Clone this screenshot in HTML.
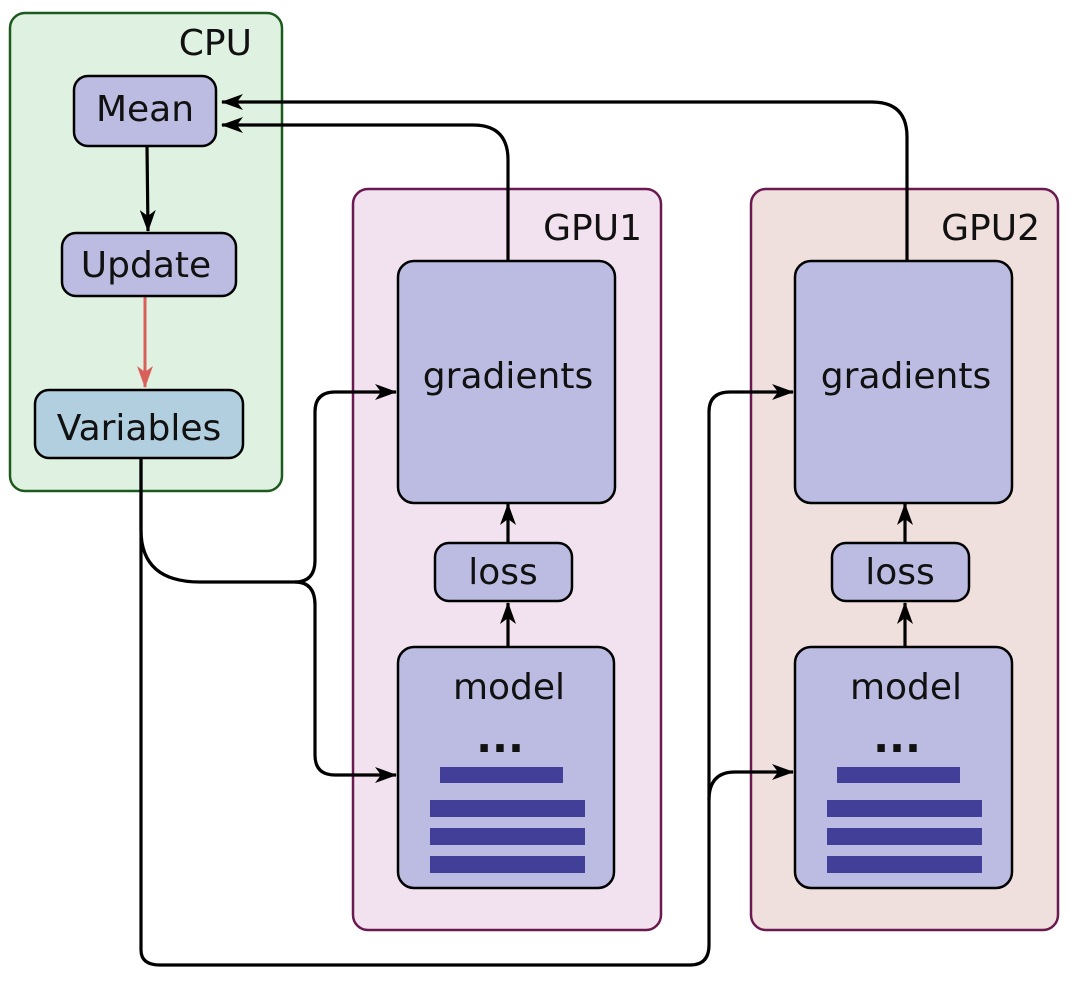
<!DOCTYPE html>
<html><head><style>body{margin:0;background:#fff}svg{display:block}text{font-family:"DejaVu Sans","Liberation Sans",sans-serif;fill:#111}</style></head><body>
<svg width="1080" height="983" viewBox="0 0 1080 983">
<defs><marker id="a" viewBox="0 0 22 16" refX="21" refY="8" markerWidth="22" markerHeight="16" markerUnits="userSpaceOnUse" orient="auto"><path d="M0,0 L22,8 L0,16 L6,8z" fill="#000"/></marker>
<marker id="r" viewBox="0 0 22 16" refX="21" refY="8" markerWidth="22" markerHeight="16" markerUnits="userSpaceOnUse" orient="auto"><path d="M0,0 L22,8 L0,16 L6,8z" fill="#d9605a"/></marker></defs>
<rect x="10" y="13" width="272" height="478" rx="15" fill="#dff2e1" stroke="#1d5a1d" stroke-width="2.5"/>
<text x="252" y="55" font-size="36" text-anchor="end">CPU</text>
<rect x="353" y="189" width="308" height="741" rx="15" fill="#f2e2ef" stroke="#6a1a50" stroke-width="2.5"/>
<text x="642" y="240" font-size="36" text-anchor="end">GPU1</text>
<rect x="751" y="189" width="307" height="741" rx="15" fill="#efdfdd" stroke="#6a1a50" stroke-width="2.5"/>
<text x="1040" y="240" font-size="36" text-anchor="end">GPU2</text>
<g stroke="#000" stroke-width="3.2" fill="none">
<path d="M147,146 L148,231" marker-end="url(#a)"/>
<path d="M508,261 L508,160 Q508,125 473,125 L222,125" marker-end="url(#a)"/>
<path d="M907,261 L907,137 Q907,102 872,102 L222,102" marker-end="url(#a)"/>
<path d="M141,458 L141,530 Q141,582 200,582 L295,582 Q315,582 315,560 L315,412 Q315,392 335,392 L396,392" marker-end="url(#a)"/>
<path d="M295,582 Q315,582 315,605 L315,755 Q315,775 335,775 L396,775" marker-end="url(#a)"/>
<path d="M141,458 L141,950 Q141,965 160,965 L690,965 Q709,965 709,945 L709,412 Q709,392 730,392 L793,392" marker-end="url(#a)"/>
<path d="M709,800 Q709,772 735,772 L793,772" marker-end="url(#a)"/>
<path d="M508,543 L508,504" marker-end="url(#a)"/>
<path d="M508,647 L508,603" marker-end="url(#a)"/>
<path d="M905,543 L905,504" marker-end="url(#a)"/>
<path d="M905,647 L905,603" marker-end="url(#a)"/>
</g>
<path d="M145,296 L145,387" stroke="#d9605a" stroke-width="3" fill="none" marker-end="url(#r)"/>
<g stroke="#000" stroke-width="2.5" fill="#bcbce2">
<rect x="74" y="76" width="142" height="70" rx="14"/>
<rect x="62" y="233" width="174" height="63" rx="14"/>
<rect x="35" y="390" width="208" height="68" rx="14" fill="#b2cfe0"/>
<rect x="398" y="261" width="217" height="242" rx="16"/>
<rect x="435" y="543" width="137" height="58" rx="14"/>
<rect x="398" y="647" width="216" height="241" rx="16"/>
<rect x="795" y="261" width="217" height="242" rx="16"/>
<rect x="832" y="543" width="137" height="58" rx="14"/>
<rect x="795" y="647" width="217" height="241" rx="16"/>
</g>
<g font-size="36" text-anchor="middle">
<text x="145" y="121">Mean</text>
<text x="146" y="277">Update</text>
<text x="139" y="440">Variables</text>
<text x="508" y="388">gradients</text>
<text x="503" y="584">loss</text>
<text x="509" y="699">model</text>
<text x="500" y="752" font-size="42" font-weight="bold">...</text>
<text x="906" y="388">gradients</text>
<text x="900" y="584">loss</text>
<text x="906" y="699">model</text>
<text x="897" y="752" font-size="42" font-weight="bold">...</text>
</g>
<g fill="#413f97">
<rect x="440" y="767" width="123" height="16"/><rect x="430" y="800" width="155" height="17"/><rect x="430" y="828" width="155" height="17"/><rect x="430" y="856" width="155" height="17"/>
<rect x="837" y="767" width="123" height="16"/><rect x="827" y="800" width="155" height="17"/><rect x="827" y="828" width="155" height="17"/><rect x="827" y="856" width="155" height="17"/>
</g>
</svg>
</body></html>
